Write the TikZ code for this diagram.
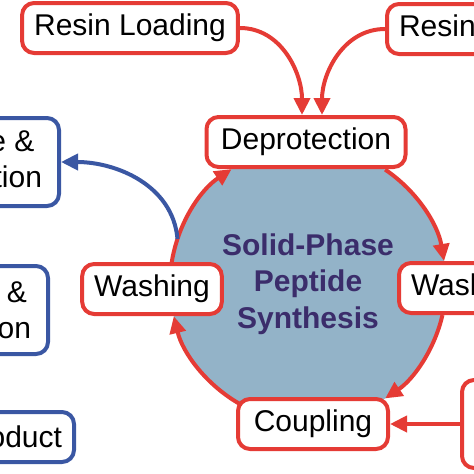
\documentclass[tikz,border=0pt]{standalone}
\usepackage{fontspec}
\setmainfont{Liberation Sans}
\usepackage{tikz}
\usetikzlibrary{arrows.meta,positioning}
\definecolor{cycred}{HTML}{E53B35}
\definecolor{outblue}{HTML}{3A57A3}
\definecolor{corefill}{HTML}{93B3C8}
\definecolor{coretext}{HTML}{3B2D6B}
\tikzset{
    %Define standard arrow tip
    >={Triangle[length=17pt,width=16pt]},
    %Define style for boxes
    stepbox/.style={
           rectangle,
           rounded corners=12pt,
           draw=cycred, line width=4pt,
           fill=white,
           inner xsep=12pt,
           minimum height=50pt,
           font=\fontsize{30}{36}\selectfont,
           align=center},
    outbox/.style={
           stepbox,
           draw=outblue},
    core/.style={
           circle,
           fill=corefill,
           minimum size=276pt,
           outer sep=0pt,
           font=\fontsize{30}{36.5}\selectfont\bfseries,
           text=coretext,
           align=center},
    % Define arrow style
    pil/.style={
           ->,
           color=cycred,
           line width=4pt},
    bpil/.style={
           pil,
           color=outblue}
}
\begin{document}
\begin{tikzpicture}[x=1pt,y=1pt]
\clip (0,0) rectangle (474,-474);
\node[core](spps) at (308,-284){Solid-Phase\\Peptide\\Synthesis};
\node[stepbox](load) at (130,-28){Resin Loading};
\node[stepbox, anchor=west](swell) at (385,-29){Resin Swelling};
\node[stepbox, minimum width=199pt](depro) at (306,-142){Deprotection};
\node[stepbox](washl) at (152,-289){Washing};
\node[stepbox, anchor=west](washr) at (397,-288){Washing};
\node[stepbox, minimum width=150pt](coup) at (313,-424){Coupling};
\node[stepbox, anchor=west, minimum height=88pt](act) at (460,-424){Amino Acid\\Activation};
\node[outbox, anchor=east, minimum height=88pt, inner xsep=17pt](cleave) at (61,-162){Cleavage \&\\Deprotection};
\node[outbox, anchor=east, minimum height=88pt, inner xsep=17pt](purify) at (50,-310){Isolation \&\\Purification};
\node[outbox, anchor=east](prod) at (76,-437){Final Product};
\draw[pil] (spps.56) arc[start angle=56, end angle=9.6, radius=138pt];
\draw[pil] (spps.-13) arc[start angle=-13, end angle=-56, radius=138pt];
\draw[pil] (spps.-120) arc[start angle=-120, end angle=-166.5, radius=138pt];
\draw[pil] (spps.171) arc[start angle=171, end angle=123.6, radius=138pt];
\path[pil] (load.east) edge[out=0,in=90] ([xshift=-4pt]depro.north)
    (swell.west) edge[out=180,in=90] ([xshift=16pt]depro.north)
    (act) edge (coup);
\draw[bpil] (spps.161) to[out=95,in=0] (cleave.east);
\end{tikzpicture}
\end{document}
